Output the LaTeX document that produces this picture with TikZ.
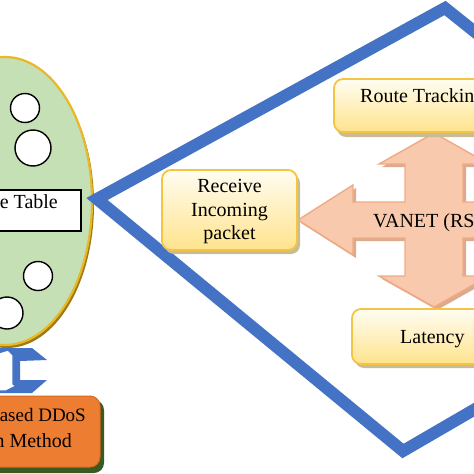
\documentclass[tikz,border=0pt]{standalone}
\usepackage{fontspec}
\setmainfont{Liberation Serif}
\definecolor{eGreen}{HTML}{C5E0B4}
\definecolor{eEdge}{HTML}{E8B828}
\definecolor{eShadow}{HTML}{9C7A14}
\definecolor{bluel}{HTML}{4472C4}
\definecolor{yTop}{HTML}{FFFDF2}
\definecolor{yBot}{HTML}{FFE38C}
\definecolor{yEdge}{HTML}{F4C542}
\definecolor{yShadow}{HTML}{C9BC95}
\definecolor{aFill}{HTML}{F8C9AC}
\definecolor{aEdge}{HTML}{EFAA84}
\definecolor{aShadow}{HTML}{DDAA90}
\definecolor{oFill}{HTML}{ED7D31}
\definecolor{oEdge}{HTML}{D06A24}
\definecolor{oShadow}{HTML}{3B5A22}
\begin{document}
\begin{tikzpicture}[x=1pt,y=-1pt,
  txt/.style={font=\fontsize{20}{23.5}\selectfont, inner sep=0pt, text=black},
  ybox/.style={rounded corners=9pt, top color=yTop, bottom color=yBot, draw=yEdge, line width=1.8pt},
  yshadow/.style={rounded corners=9pt, fill=yShadow},
  circ/.style={circle, draw=black, fill=white, line width=1.4pt, inner sep=0pt},
  bluethick/.style={draw=bluel, line width=12pt, line join=miter},
  quadarrow/.pic={\path[pic actions] (0,-87) -- (55,-56) -- (29,-56) -- (29,-18) -- (81,-18) -- (81,-35) -- (136,0) -- (81,35) -- (81,18) -- (29,18) -- (29,56) -- (55,56) -- (0,87) -- (-55,56) -- (-29,56) -- (-29,18) -- (-81,18) -- (-81,35) -- (-136,0) -- (-81,-35) -- (-81,-18) -- (-29,-18) -- (-29,-56) -- (-55,-56) -- cycle;}
]
\useasboundingbox (0,0) rectangle (474,474);
\clip (0,0) rectangle (474,474);

% green ellipse with circles and table
\fill[eShadow] (7,204) ellipse [x radius=87, y radius=144];
\draw[fill=eGreen, draw=eEdge, line width=2.2pt] (5,201) ellipse [x radius=87, y radius=144];
\node[circ, minimum size=29pt] (c1) at (25,108) {};
\node[circ, minimum size=36pt] (c2) at (33,148) {};
\node[circ, minimum size=29pt] (c3) at (38,276) {};
\node[circ, minimum size=32pt] (c4) at (7,313) {};
\draw[fill=white, draw=black, line width=1.5pt] (-10,190) rectangle (81,231);
\node[txt, anchor=base east] (tbl) at (58,208) {e Table};

% blue diamond
\draw[bluethick] (520,68) -- (445,8) -- (97,199) -- (403,451) -- (520,383);

% four-way arrow
\pic[fill=aShadow] at (437,223) {quadarrow};
\pic[fill=aFill, draw=aEdge, line width=1.4pt] at (434,220) {quadarrow};
\node[txt, anchor=base west] (vanet) at (373,227) {VANET (RS};

% yellow boxes
\fill[yshadow] (165,174) rectangle (300,254);
\draw[ybox] (162,170) rectangle (297,250);
\node[txt, align=center] (recv) at (229.5,211.8) {Receive\\Incoming\\packet};

\fill[yshadow] (337,83) rectangle (490,137);
\draw[ybox] (334,79) rectangle (490,132);
\node[txt, anchor=base west] (route) at (360,102) {Route Trackin};

\fill[yshadow] (355,313) rectangle (490,368);
\draw[ybox] (352,309) rectangle (490,364);
\node[txt, anchor=base west] (lat) at (400,343) {Latency};

% blue double arrow (bottom left)
\fill[bluel] (-2,348) -- (32,348) -- (47,360) -- (20,361) -- (20,380) -- (47,380) -- (32,393) -- (-2,393) -- cycle;
\draw[fill=white, draw=bluel, line width=1.3pt] (-2,353) -- (8,350) -- (13,355) -- (13,384) -- (16,386) -- (6,391) -- (-2,391) -- cycle;

% orange box
\fill[oShadow, rounded corners=10pt] (-20,400) rectangle (104,473);
\draw[fill=oFill, draw=oEdge, line width=1pt, rounded corners=10pt] (-20,396) rectangle (100,467);
\node[txt, font=\fontsize{19}{22}\selectfont, anchor=base east] (m1) at (86,421) {ased DDoS};
\node[txt, anchor=base east] (m2) at (72,447) {n Method};
\end{tikzpicture}
\end{document}
